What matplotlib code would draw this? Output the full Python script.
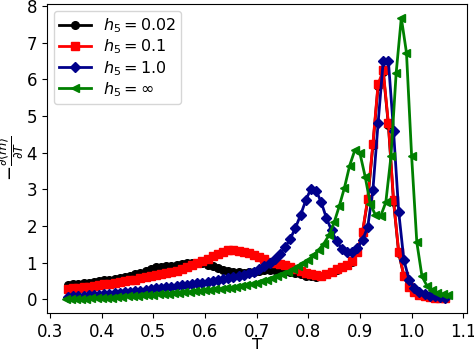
import matplotlib
matplotlib.use("Agg")
import matplotlib.pyplot as plt

# temperature grid (h5 = inf run)
T = [0.33, 0.34, 0.35, 0.36, 0.37, 0.38, 0.39, 0.40, 0.41, 0.42, 0.43, 0.44, 0.45,
     0.46, 0.47, 0.48, 0.49, 0.50, 0.51, 0.52, 0.53, 0.54, 0.55, 0.56, 0.57, 0.58,
     0.59, 0.60, 0.61, 0.62, 0.63, 0.64, 0.65, 0.66, 0.67, 0.68, 0.69, 0.70, 0.71,
     0.72, 0.73, 0.74, 0.75, 0.76, 0.77, 0.78, 0.79, 0.80, 0.81, 0.82, 0.83, 0.84,
     0.85, 0.86, 0.87, 0.88, 0.89, 0.90, 0.91, 0.92, 0.93, 0.94, 0.95, 0.96, 0.97,
     0.98, 0.99, 1.00, 1.01, 1.02, 1.03, 1.04, 1.05, 1.06, 1.07]

# temperature grid (finite h5 runs)
T_b = [0.335, 0.345, 0.355, 0.365, 0.375, 0.385, 0.395, 0.405, 0.415, 0.425, 0.435,
       0.445, 0.455, 0.465, 0.475, 0.485, 0.495, 0.505, 0.515, 0.525, 0.535, 0.545,
       0.555, 0.565, 0.575, 0.585, 0.595, 0.605, 0.615, 0.625, 0.635, 0.645, 0.655,
       0.665, 0.675, 0.685, 0.695, 0.705, 0.715, 0.725, 0.735, 0.745, 0.755, 0.765,
       0.775, 0.785, 0.795, 0.805, 0.815, 0.825, 0.835, 0.845, 0.855, 0.865, 0.875,
       0.885, 0.895, 0.905, 0.915, 0.925, 0.935, 0.945, 0.955, 0.965, 0.975, 0.985,
       0.995, 1.005, 1.015, 1.025, 1.035, 1.045, 1.055, 1.065]

# -d<m>/dT for each h5
h_002 = [0.40, 0.41, 0.43, 0.44, 0.46, 0.48, 0.50, 0.52, 0.54, 0.56, 0.59, 0.62, 0.65,
         0.69, 0.73, 0.78, 0.83, 0.87, 0.89, 0.90, 0.92, 0.94, 0.96, 0.98, 0.99, 1.00,
         0.99, 0.95, 0.90, 0.85, 0.81, 0.78, 0.76, 0.74, 0.73, 0.74, 0.76, 0.78, 0.80,
         0.81, 0.81, 0.80, 0.78, 0.75, 0.71, 0.68, 0.65, 0.63, 0.62, 0.63, 0.69, 0.75,
         0.81, 0.87, 0.94, 1.03, 1.28, 1.82, 2.72, 4.20, 5.82, 6.20, 4.76, 2.67, 1.26,
         0.64, 0.33, 0.19, 0.12, 0.08, 0.06, 0.05, 0.04, 0.03]

h_01 = [0.28, 0.30, 0.31, 0.33, 0.35, 0.37, 0.39, 0.41, 0.43, 0.45, 0.47, 0.49, 0.52,
        0.54, 0.57, 0.60, 0.63, 0.66, 0.69, 0.72, 0.75, 0.78, 0.84, 0.88, 0.93, 0.98,
        1.04, 1.10, 1.17, 1.24, 1.30, 1.34, 1.35, 1.33, 1.30, 1.26, 1.22, 1.16, 1.09,
        1.03, 0.99, 0.96, 0.93, 0.88, 0.82, 0.77, 0.72, 0.68, 0.66, 0.65, 0.70, 0.76,
        0.82, 0.88, 0.95, 1.04, 1.30, 1.85, 2.75, 4.25, 5.87, 6.25, 4.80, 2.70, 1.28,
        0.65, 0.34, 0.20, 0.13, 0.09, 0.07, 0.05, 0.04, 0.03]

h_10 = [0.07, 0.08, 0.09, 0.10, 0.11, 0.12, 0.13, 0.15, 0.16, 0.17, 0.18, 0.19, 0.21,
        0.22, 0.24, 0.26, 0.28, 0.30, 0.31, 0.33, 0.35, 0.36, 0.38, 0.40, 0.42, 0.44,
        0.46, 0.48, 0.50, 0.52, 0.55, 0.58, 0.61, 0.64, 0.67, 0.71, 0.76, 0.82, 0.90,
        0.99, 1.10, 1.24, 1.42, 1.65, 1.95, 2.30, 2.70, 3.02, 2.97, 2.65, 2.22, 1.88,
        1.58, 1.38, 1.29, 1.28, 1.40, 1.62, 1.98, 2.98, 4.80, 6.50, 6.50, 4.59, 2.38,
        1.07, 0.54, 0.30, 0.20, 0.14, 0.10, 0.08, 0.06, 0.05]

h_inf = [0.01, 0.01, 0.02, 0.02, 0.02, 0.03, 0.03, 0.04, 0.05, 0.05, 0.06, 0.07, 0.08,
         0.09, 0.10, 0.11, 0.12, 0.13, 0.14, 0.15, 0.16, 0.17, 0.18, 0.19, 0.20, 0.22,
         0.23, 0.25, 0.26, 0.27, 0.29, 0.30, 0.32, 0.34, 0.36, 0.39, 0.42, 0.45, 0.49,
         0.53, 0.58, 0.63, 0.69, 0.76, 0.83, 0.91, 0.99, 1.08, 1.20, 1.35, 1.52, 1.75,
         2.10, 2.55, 3.05, 3.65, 4.07, 3.98, 3.35, 2.60, 2.30, 2.27, 2.65, 3.90, 6.17,
         7.68, 6.73, 3.90, 1.56, 0.63, 0.36, 0.25, 0.18, 0.14, 0.12]

fig = plt.figure(figsize=(4.74, 3.49), dpi=100)
ax = fig.add_axes([0.0985, 0.103, 0.886, 0.886])

ax.plot(T_b, h_002, color='k', marker='o', ms=5.5, lw=2, label=r'$h_5 = 0.02$')
ax.plot(T_b, h_01, color='r', marker='s', ms=5.5, lw=2, label=r'$h_5 = 0.1$')
ax.plot(T_b, h_10, color='darkblue', marker='D', ms=5.5, lw=2, label=r'$h_5 = 1.0$')
ax.plot(T, h_inf, color='g', marker='<', ms=5.5, lw=2, label=r'$h_5 = \infty$')

ax.set_xlim(0.2935, 1.1065)
ax.set_xticks([0.3, 0.4, 0.5, 0.6, 0.7, 0.8, 0.9, 1.0, 1.1])
ax.set_yticks(range(0, 9))
ax.tick_params(labelsize=12)

ax.set_xlabel('T', fontsize=12, labelpad=-3)
ax.set_ylabel(r'$-\frac{\partial \langle m \rangle}{\partial T}$', fontsize=13, labelpad=0)

ax.legend(loc='upper left', fontsize=11.5, handlelength=2.0, handletextpad=0.7,
          borderpad=0.35, labelspacing=0.15, borderaxespad=0.45)

fig.savefig('out.png', dpi=100)
